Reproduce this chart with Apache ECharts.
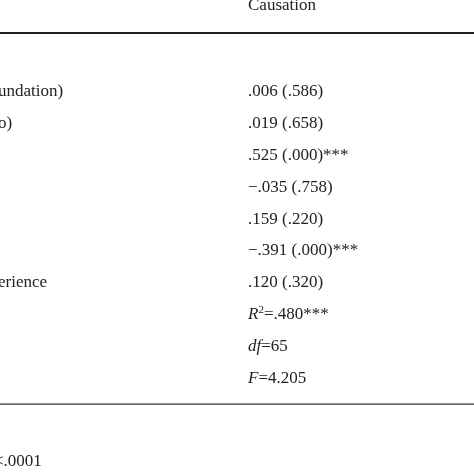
<!DOCTYPE html>
<html><head><meta charset="utf-8">
<script src="https://cdn.jsdelivr.net/npm/echarts@6/dist/echarts.min.js"></script>
<style>html,body{margin:0;padding:0;background:#fff}#c{width:474px;height:474px}</style>
</head><body><div id="c"></div>
<script>
const header = "Causation";
const rowLabels = ["undation)", "o)", "", "", "", "", "erience", "", "", ""];
const rowValues = [".006 (.586)", ".019 (.658)", ".525 (.000)***", "\u2212.035 (.758)", ".159 (.220)", "\u2212.391 (.000)***", ".120 (.320)", "{i|R}{sup|2}{n|=.480***}", "{i|df}{n|=65}", "{i|F}{n|=4.205}"];
const footnote = "<.0001";

const font = "'Liberation Serif', 'DejaVu Serif', serif";
const rich = {
  n: {fontFamily: font, fontSize: 17, fill: '#222'},
  i: {fontFamily: font, fontSize: 17, fontStyle: 'italic', fill: '#222'},
  sup: {fontFamily: font, fontSize: 11, fill: '#222', verticalAlign: 'top', padding: [0,0,8,0]}
};
const g = [];
g.push({type:'text', left: 248, top: -3, style:{text: header, font: "17px " + font, fill:'#222'}});
g.push({type:'rect', shape:{x:0, y:32, width:474, height:2}, style:{fill:'#222'}});
g.push({type:'rect', shape:{x:0, y:403.5, width:474, height:1.3}, style:{fill:'#333'}});
const y0 = 92, dy = 31.8;
rowLabels.forEach((t, k) => {
  if (t) g.push({type:'text', x: -2, y: y0 + k*dy, style:{text:t, font: "17px " + font, fill:'#222', verticalAlign:'middle'}});
});
rowValues.forEach((t, k) => {
  const isRich = t.indexOf('{') === 0;
  g.push({type:'text', x: 248, y: y0 + k*dy, style: isRich ?
    {text:t, rich: rich, verticalAlign:'middle'} :
    {text:t, font: "17px " + font, fill:'#222', verticalAlign:'middle'}});
});
g.push({type:'text', x: -6, y: 462, style:{text: footnote, font: "17px " + font, fill:'#222', verticalAlign:'middle'}});
const chart = echarts.init(document.getElementById('c'));
chart.setOption({graphic: g});
</script></body></html>
